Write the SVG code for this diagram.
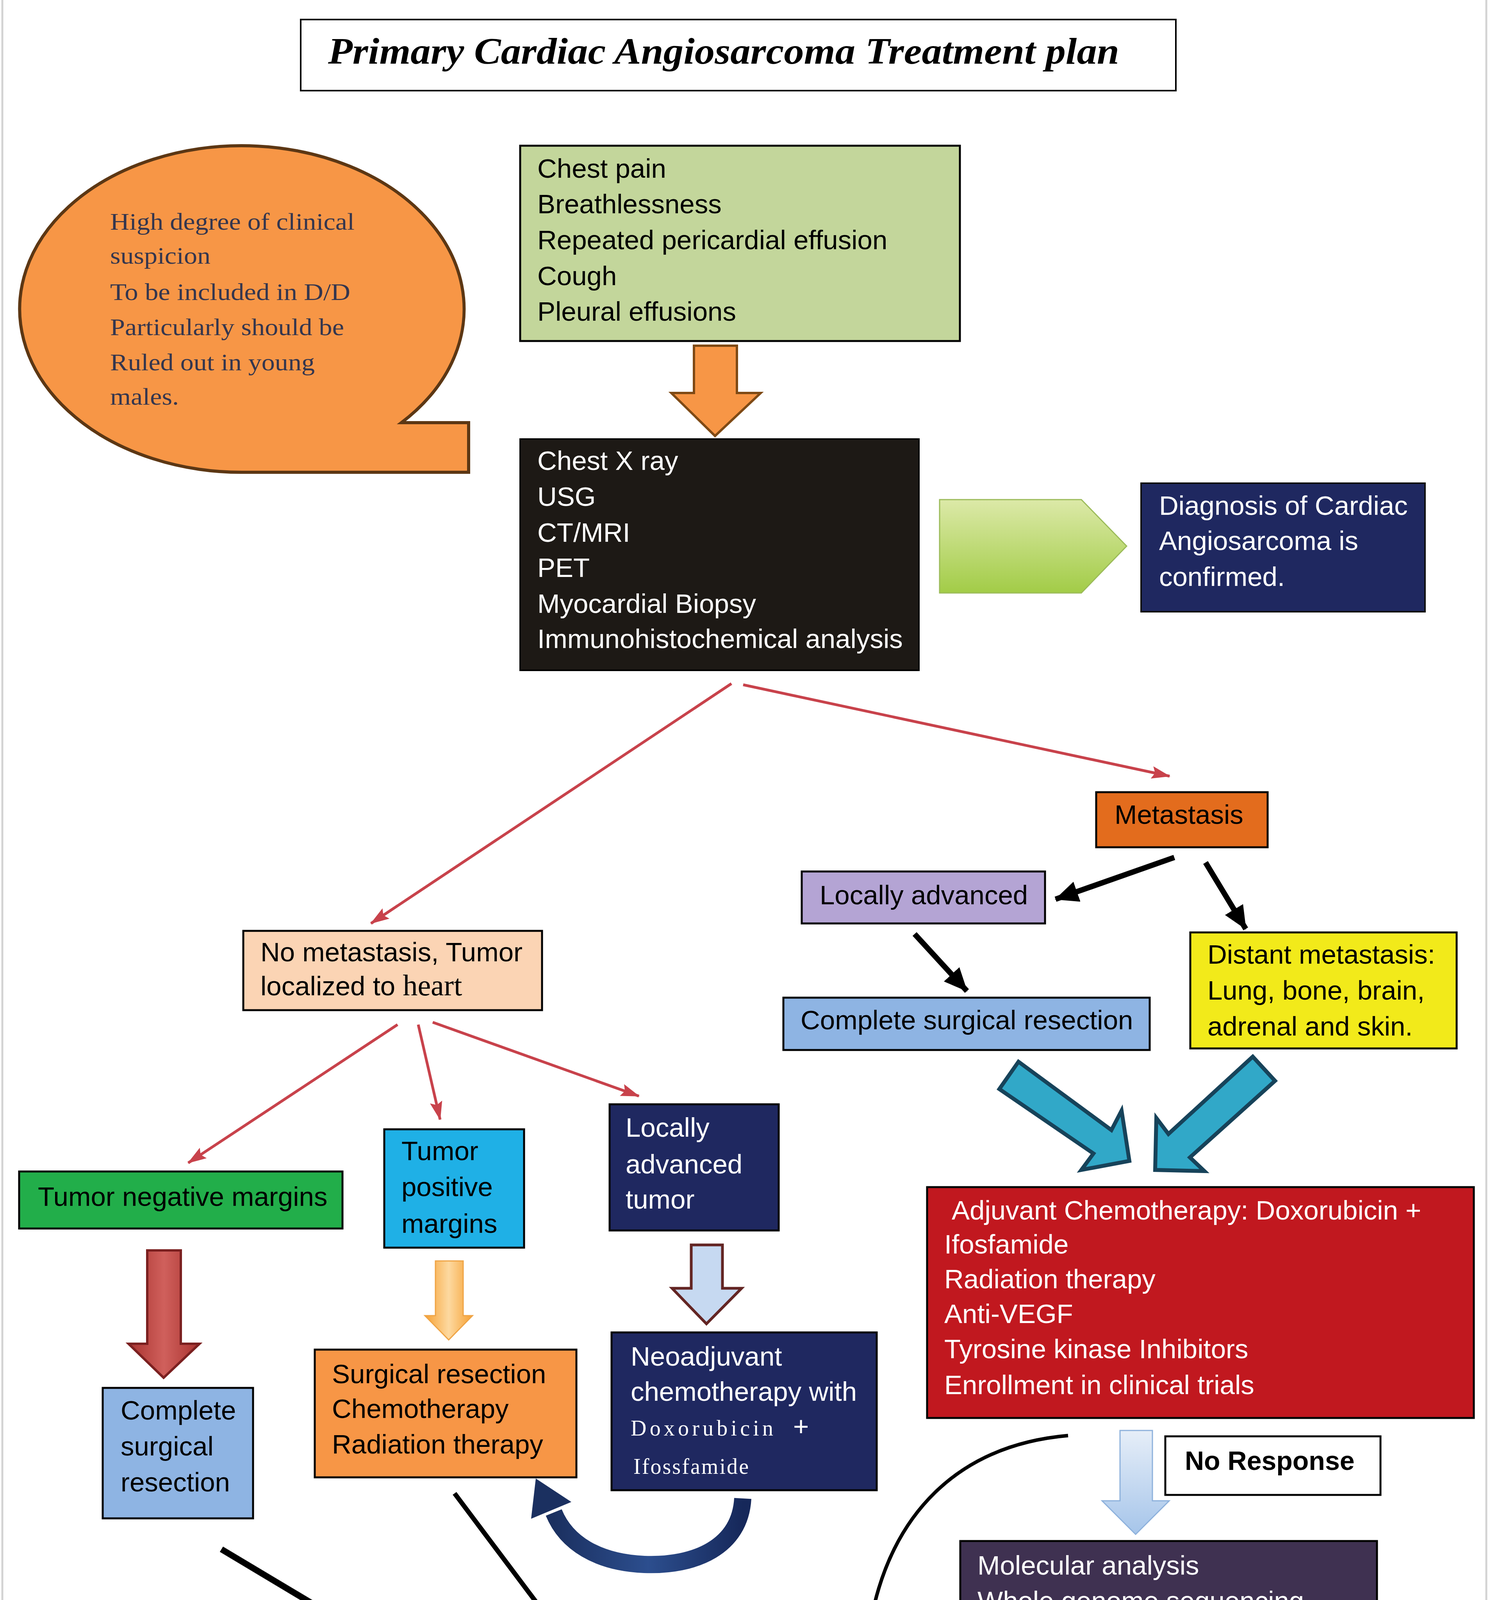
<svg xmlns="http://www.w3.org/2000/svg" width="3818" height="4869" viewBox="0 0 3818 4869">
<style>
.s{font-family:"Liberation Sans",Arial,sans-serif;font-size:69px;fill:#000}
.w{fill:#fff}
.sb{font-family:"Liberation Sans",Arial,sans-serif;font-weight:bold;fill:#000}
.sf{font-family:"Liberation Serif","Times New Roman",serif}
.box{stroke:#000;stroke-width:5}
.red{stroke:#C8424B;stroke-width:7;fill:none;marker-end:url(#arR)}
.blk{stroke:#000;stroke-width:14;fill:none;marker-end:url(#arB)}
.blk2{stroke:#000;fill:none;marker-end:url(#arS)}
</style>
<defs>
<marker id="arR" markerUnits="userSpaceOnUse" markerWidth="48" markerHeight="36" viewBox="0 0 48 36" refX="46" refY="18" orient="auto"><path d="M0,2 L48,18 L0,34 L8,18 Z" fill="#C8424B"/></marker>
<marker id="arB" markerUnits="userSpaceOnUse" markerWidth="60" markerHeight="54" viewBox="0 0 60 54" refX="58" refY="27" orient="auto"><path d="M0,0 L60,27 L0,54 Z" fill="#000"/></marker>
<marker id="arS" markerUnits="userSpaceOnUse" markerWidth="95" markerHeight="56" viewBox="0 0 95 56" refX="93" refY="28" orient="auto"><path d="M0,0 L95,28 L0,56 L14,28 Z" fill="#000"/></marker>
<marker id="arO" markerUnits="userSpaceOnUse" markerWidth="40" markerHeight="40" viewBox="0 0 40 40" refX="38" refY="20" orient="auto"><path d="M2,4 L38,20 L2,36" fill="none" stroke="#F79646" stroke-width="4"/></marker>
<linearGradient id="gChev" x1="0" y1="0" x2="0" y2="1"><stop offset="0" stop-color="#DCE9A8"/><stop offset="1" stop-color="#A2CC47"/></linearGradient>
<linearGradient id="gRed" x1="0" y1="0" x2="1" y2="0"><stop offset="0" stop-color="#A8322F"/><stop offset="0.5" stop-color="#D0605C"/><stop offset="1" stop-color="#A8322F"/></linearGradient>
<linearGradient id="gOr" x1="0" y1="0" x2="1" y2="0"><stop offset="0" stop-color="#F6A032"/><stop offset="0.5" stop-color="#FDD9A0"/><stop offset="1" stop-color="#F6A032"/></linearGradient>
<linearGradient id="gBl" x1="0" y1="0" x2="0" y2="1"><stop offset="0" stop-color="#E6EEF8"/><stop offset="1" stop-color="#A6C5EA"/></linearGradient>
<linearGradient id="gNavy" x1="0" y1="0" x2="1" y2="0"><stop offset="0" stop-color="#1B3060"/><stop offset="0.5" stop-color="#2C4E8E"/><stop offset="1" stop-color="#16285A"/></linearGradient>
</defs>
<rect x="6" y="-10" width="3800" height="4860" fill="#fff" stroke="#D3D3D3" stroke-width="5"/>

<g id="connectors">
<line class="red" x1="1873" y1="1750" x2="950" y2="2364"/>
<line class="red" x1="1903" y1="1753" x2="2995" y2="1987"/>
<line class="red" x1="1018" y1="2623" x2="482" y2="2977"/>
<line class="red" x1="1071" y1="2623" x2="1127" y2="2866"/>
<line class="red" x1="1108" y1="2617" x2="1636" y2="2806"/>
<line class="blk" x1="3007" y1="2195" x2="2703" y2="2302"/>
<line class="blk" x1="3087" y1="2208" x2="3190" y2="2378"/>
<line class="blk" x1="2342" y1="2391" x2="2476" y2="2537"/>
<line class="blk2" stroke-width="16" x1="567" y1="3966" x2="1712" y2="4651"/>
<line class="blk2" stroke-width="12" x1="1164" y1="3823" x2="1775" y2="4637"/>
<path class="blk2" stroke-width="9" d="M2735,3675 C2450,3700 2280,3880 2230,4150 C2180,4420 2080,4560 1852,4610"/>
<line class="blk2" stroke-width="20" x1="2676" y1="4538" x2="1907" y2="4637"/>
<line x1="2951" y1="4312" x2="2963" y2="4448" stroke="#F79646" stroke-width="4" marker-end="url(#arO)"/>
<line x1="1917" y1="1645" x2="1917" y2="1718" stroke="#000" stroke-width="6"/>
<polygon points="1777,885 1887,885 1887,1006 1948,1006 1831,1116 1719,1006 1777,1006" fill="#F79646" stroke="#7F4A15" stroke-width="6"/>
<polygon points="2406,1279 2769,1279 2885,1398 2769,1518 2406,1518" fill="url(#gChev)" stroke="#9BBB59" stroke-width="3"/>
<polygon points="2608,2718 2846,2893 2872,2843 2892,2972 2769,2995 2800,2953 2559,2788" fill="#31A8C8" stroke="#17435A" stroke-width="10" stroke-linejoin="miter"/>
<polygon points="3208,2705 2992,2903 2961,2862 2958,2995 3084,2998 3047,2963 3265,2767" fill="#31A8C8" stroke="#17435A" stroke-width="10" stroke-linejoin="miter"/>
<polygon points="377,3201 463,3201 463,3440 511,3440 419,3527 329,3440 377,3440" fill="url(#gRed)" stroke="#7B2020" stroke-width="6"/>
<polygon points="1115,3228 1186,3228 1186,3368 1210,3368 1149,3430 1088,3368 1115,3368" fill="url(#gOr)" stroke="#EFA445" stroke-width="3"/>
<polygon points="1770,3187 1850,3187 1850,3298 1899,3298 1809,3389 1721,3298 1770,3298" fill="#C6D9F1" stroke="#632523" stroke-width="7"/>
<polygon points="2868,3662 2951,3662 2951,3842 2994,3842 2908,3928 2822,3842 2868,3842" fill="url(#gBl)" stroke="#8DB1DC" stroke-width="3"/>
<path d="M1902,3836 C1895,3960 1780,4010 1650,4005 C1530,4000 1450,3950 1418,3872" fill="none" stroke="url(#gNavy)" stroke-width="44"/>
<polygon points="1372,3785 1463,3845 1360,3888" fill="#1B3060"/>
</g>

<g id="title">
<rect x="770" y="50" width="2241" height="182" fill="#fff" stroke="#000" stroke-width="4"/>
<text x="840" y="163" font-family="Liberation Serif, Times New Roman, serif" font-weight="bold" font-style="italic" font-size="96" textLength="2026" lengthAdjust="spacingAndGlyphs">Primary Cardiac Angiosarcoma Treatment plan</text>
</g>

<g id="bubble">
<path d="M631,1209 A569,418 0 1 1 1028,1082 L1200,1082 L1200,1209 Z" fill="#F79646" stroke="#5C3714" stroke-width="8"/>
<g class="sf" font-size="62" fill="#34364E">
<text x="282" y="588" textLength="626" lengthAdjust="spacingAndGlyphs">High degree of clinical</text>
<text x="282" y="675" textLength="257" lengthAdjust="spacingAndGlyphs">suspicion</text>
<text x="282" y="768" textLength="615" lengthAdjust="spacingAndGlyphs">To be included in D/D</text>
<text x="282" y="858" textLength="599" lengthAdjust="spacingAndGlyphs">Particularly should be</text>
<text x="282" y="948" textLength="524" lengthAdjust="spacingAndGlyphs">Ruled out in young</text>
<text x="282" y="1036" textLength="176" lengthAdjust="spacingAndGlyphs">males.</text>
</g>
</g>

<g id="symptoms">
<rect class="box" x="1332" y="373" width="1126" height="500" fill="#C3D69B"/>
<text class="s" x="1376" y="455">Chest pain</text>
<text class="s" x="1376" y="546">Breathlessness</text>
<text class="s" x="1376" y="638">Repeated pericardial effusion</text>
<text class="s" x="1376" y="730">Cough</text>
<text class="s" x="1376" y="821">Pleural effusions</text>
</g>

<g id="tests">
<rect x="1332" y="1124" width="1021" height="592" fill="#1D1915" stroke="#000" stroke-width="4"/>
<text class="s w" x="1376" y="1203">Chest X ray</text>
<text class="s w" x="1376" y="1295">USG</text>
<text class="s w" x="1376" y="1387">CT/MRI</text>
<text class="s w" x="1376" y="1477">PET</text>
<text class="s w" x="1376" y="1569">Myocardial Biopsy</text>
<text class="s w" x="1376" y="1659">Immunohistochemical analysis</text>
</g>

<g id="diagnosis">
<rect x="2922" y="1237" width="727" height="329" fill="#1F2860" stroke="#111" stroke-width="4"/>
<text class="s w" x="2968" y="1318">Diagnosis of Cardiac</text>
<text class="s w" x="2968" y="1408">Angiosarcoma is</text>
<text class="s w" x="2968" y="1500">confirmed.</text>
</g>

<g id="metastasis">
<rect class="box" x="2807" y="2028" width="439" height="141" fill="#E36C1D"/>
<text class="s" x="2854" y="2109">Metastasis</text>
</g>

<g id="locally-advanced">
<rect class="box" x="2053" y="2231" width="623" height="133" fill="#B4A4D4"/>
<text class="s" x="2099" y="2315">Locally advanced</text>
</g>

<g id="distant">
<rect class="box" x="3048" y="2387" width="682" height="297" fill="#F2EA1A"/>
<text class="s" x="3092" y="2467">Distant metastasis:</text>
<text class="s" x="3092" y="2559">Lung, bone, brain,</text>
<text class="s" x="3092" y="2651">adrenal and skin.</text>
</g>

<g id="resection-right">
<rect class="box" x="2006" y="2554" width="938" height="134" fill="#8EB4E3"/>
<text class="s" x="2050" y="2635">Complete surgical resection</text>
</g>

<g id="no-metastasis">
<rect class="box" x="623" y="2383" width="765" height="203" fill="#FBD4B4"/>
<text class="s" x="667" y="2461">No metastasis, Tumor</text>
<text class="s" x="667" y="2548">localized to <tspan class="sf" font-size="76">heart</tspan></text>
</g>

<g id="tumor-negative">
<rect class="box" x="49" y="2999" width="828" height="146" fill="#22AE4A"/>
<text class="s" x="97" y="3087">Tumor negative margins</text>
</g>

<g id="tumor-positive">
<rect class="box" x="984" y="2891" width="358" height="303" fill="#1FB0E6"/>
<text class="s" x="1028" y="2970">Tumor</text>
<text class="s" x="1028" y="3062">positive</text>
<text class="s" x="1028" y="3156">margins</text>
</g>

<g id="locally-advanced-tumor">
<rect class="box" x="1561" y="2827" width="433" height="323" fill="#1F2860"/>
<text class="s w" x="1602" y="2910">Locally</text>
<text class="s w" x="1602" y="3004">advanced</text>
<text class="s w" x="1602" y="3094">tumor</text>
</g>

<g id="adjuvant">
<rect class="box" x="2374" y="3039" width="1400" height="591" fill="#C1181F"/>
<text class="s w" x="2437" y="3122">Adjuvant Chemotherapy: Doxorubicin +</text>
<text class="s w" x="2418" y="3209">Ifosfamide</text>
<text class="s w" x="2418" y="3298">Radiation therapy</text>
<text class="s w" x="2418" y="3387">Anti-VEGF</text>
<text class="s w" x="2418" y="3477">Tyrosine kinase Inhibitors</text>
<text class="s w" x="2418" y="3569">Enrollment in clinical trials</text>
</g>

<g id="resection-left">
<rect class="box" x="263" y="3553" width="385" height="334" fill="#8EB4E3"/>
<text class="s" x="309" y="3634">Complete</text>
<text class="s" x="309" y="3726">surgical</text>
<text class="s" x="309" y="3818">resection</text>
</g>

<g id="surgical-combo">
<rect class="box" x="806" y="3455" width="670" height="327" fill="#F79646"/>
<text class="s" x="850" y="3541">Surgical resection</text>
<text class="s" x="850" y="3630">Chemotherapy</text>
<text class="s" x="850" y="3721">Radiation therapy</text>
</g>

<g id="neoadjuvant">
<rect class="box" x="1566" y="3411" width="679" height="404" fill="#1F2860"/>
<text class="s w" x="1615" y="3496">Neoadjuvant</text>
<text class="s w" x="1615" y="3586">chemotherapy with</text>
<text class="sf w" x="1615" y="3675" font-size="56" textLength="365" lengthAdjust="spacing">Doxorubicin</text>
<text class="s w" x="2031" y="3675" font-size="60">+</text>
<text class="sf w" x="1622" y="3773" font-size="56" textLength="295" lengthAdjust="spacing">Ifossfamide</text>
</g>

<g id="no-response">
<rect x="2984" y="3677" width="551" height="150" fill="#fff" stroke="#000" stroke-width="5"/>
<text class="sb" x="3034" y="3763" font-size="68">No Response</text>
</g>

<g id="molecular">
<rect class="box" x="2459" y="3945" width="1067" height="336" fill="#3F3151"/>
<text class="s w" x="2503" y="4031">Molecular analysis</text>
<text class="s w" x="2503" y="4122">Whole genome sequencing</text>
<text class="s w" x="2503" y="4212">Immunohistochemical analysis</text>
</g>

<g id="targeted">
<rect class="box" x="2715" y="4473" width="596" height="126" fill="#92D050"/>
<text class="sb" x="2768" y="4554" font-size="61">Targeted therapy</text>
</g>

<g id="follow-up">
<rect class="box" x="1025" y="4667" width="1802" height="145" fill="#FDE9D9"/>
<text class="s" x="1073" y="4751" textLength="1712" lengthAdjust="spacingAndGlyphs">Close follow (3–6month) up for recurrence or metastasis</text>
</g>
</svg>
